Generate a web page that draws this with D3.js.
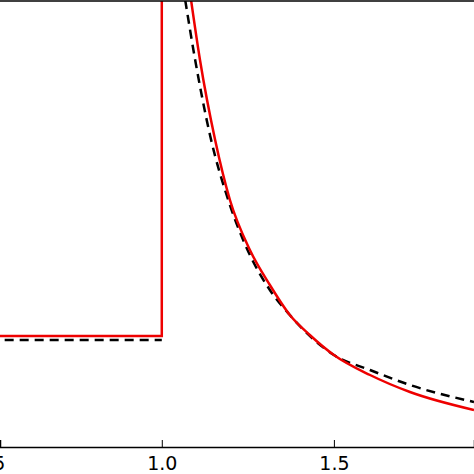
<!DOCTYPE html>
<html><head><meta charset="utf-8">
<script src="https://cdn.jsdelivr.net/npm/d3@7"></script>
<style>body{margin:0;background:#fff}svg{display:block}</style>
</head><body>
<svg id="chart" width="474" height="474"></svg>
<script>
// values
const xTicks = [0.5, 1.0, 1.5];
const redFlatX = [0.5, 1.0, 1.0];
const redFlatY = [111, 111, 460];
const redCurveX = [1.085, 1.111, 1.155, 1.198, 1.256, 1.314, 1.372, 1.430, 1.5, 1.605, 1.721, 1.907];
const redCurveY = [447, 387, 307, 247, 197, 162, 132, 112, 92, 72, 55, 37];
const dashFlatX = [0.5, 1.0];
const dashFlatY = [107, 107];
const dashCurveX = [1.068, 1.097, 1.140, 1.198, 1.256, 1.314, 1.372, 1.5, 1.605, 1.721, 1.907];
const dashCurveY = [447, 387, 312, 242, 192, 157, 132, 92, 77, 62, 45];

const svg = d3.select("#chart");
const mLeft = 0, mRight = 474, mTop = 1, mBottom = 447;

const x = d3.scaleLinear().domain([0.53, 1.907]).range([mLeft, mRight]);
const y = d3.scaleLinear().domain([0, 446]).range([mBottom, mTop]);

const g = svg.append("g");
g.append("defs").append("clipPath").attr("id", "clip")
  .append("rect").attr("x", mLeft).attr("y", mTop).attr("width", mRight - mLeft).attr("height", mBottom - mTop);

const line = d3.line().x(d => x(d[0])).y(d => y(d[1]));
const plot = g.append("g").attr("clip-path", "url(#clip)");

// dashed first (drawn under red)
plot.append("path").datum(d3.zip(dashFlatX, dashFlatY))
  .attr("d", line).attr("fill", "none").attr("stroke", "#000").attr("stroke-width", 2.5).attr("stroke-dasharray", "9,6");
plot.append("path").datum(d3.zip(dashCurveX, dashCurveY))
  .attr("d", line.curve(d3.curveMonotoneX)).attr("fill", "none").attr("stroke", "#000").attr("stroke-width", 2.5).attr("stroke-dasharray", "9,6");
line.curve(d3.curveLinear);
plot.append("path").datum(d3.zip(redFlatX, redFlatY))
  .attr("d", line).attr("fill", "none").attr("stroke", "#ee0000").attr("stroke-width", 2.5);
plot.append("path").datum(d3.zip(redCurveX, redCurveY))
  .attr("d", line.curve(d3.curveMonotoneX)).attr("fill", "none").attr("stroke", "#ee0000").attr("stroke-width", 2.5);

// frame
g.append("line").attr("x1", mLeft).attr("x2", mRight).attr("y1", mTop).attr("y2", mTop).attr("stroke", "#000").attr("stroke-width", 1.5);

const xAxis = d3.axisBottom(x).tickValues(xTicks).tickFormat(d3.format(".1f")).tickSize(-7).tickPadding(10);
const ax = g.append("g").attr("transform", `translate(0,${mBottom})`).call(xAxis);
ax.select(".domain").attr("stroke-width", 1.5);
ax.selectAll("text").attr("font-family", "DejaVu Sans").attr("font-size", 19).attr("fill", "#000");
</script>
</body></html>
